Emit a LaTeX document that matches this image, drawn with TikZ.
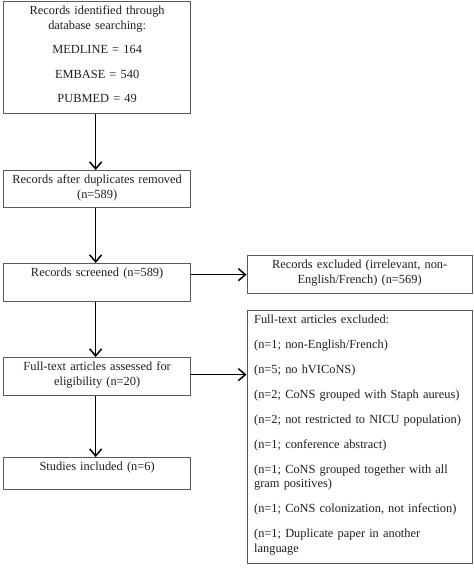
\documentclass[tikz,border=0pt]{standalone}
\usepackage{fontspec}
\setmainfont{Liberation Serif}
\usetikzlibrary{arrows.meta}
\definecolor{boxgray}{RGB}{90,90,90}
\definecolor{txt}{RGB}{30,30,30}
\newcommand\topcentered[2]{\parbox[c][#1][t]{\linewidth}{\centering\strut #2}}
\newcommand\topleft[2]{\parbox[c][#1][t]{\linewidth}{\raggedright\strut #2}}
\begin{document}
\begin{tikzpicture}[x=1bp,y=-1bp,
  box/.style={draw=boxgray, line width=1.3bp, rectangle, anchor=north west,
    inner ysep=3bp, text=txt, font=\fontsize{12.4bp}{14.5bp}\selectfont},
  leftbox/.style={box, inner xsep=4bp, text width=179bp},
  rightbox/.style={box, inner xsep=7bp, text width=211bp},
  arr/.style={-{Straight Barb[length=7bp,width=12bp]}, line width=1.5bp, black}]
\useasboundingbox (0,0) rectangle (474,568);
\node[leftbox] (b1) at (3,1) {\topcentered{106bp}{Records identified through\\database searching:\\[10bp]MEDLINE = 164\\[10bp]EMBASE = 540\\[10bp]PUBMED = 49}};
\node[leftbox] (b2) at (3,170) {\topcentered{31bp}{Records after duplicates removed\\(n=589)}};
\node[leftbox] (b3) at (3,263) {\topcentered{32bp}{Records screened (n=589)}};
\node[leftbox] (b4) at (3,357) {\topcentered{32bp}{Full-text articles assessed for\\eligibility (n=20)}};
\node[leftbox] (b5) at (3,457) {\topcentered{26bp}{Studies included (n=6)}};
\node[rightbox] (r1) at (246.5,255) {\topcentered{32bp}{Records excluded (irrelevant, non-\\English/French) (n=569)}};
\node[rightbox] (r2) at (246.5,309.5) {\topleft{247.5bp}{Full-text articles excluded:\\[10.5bp]
(n=1; non-English/French)\\[10.5bp]
(n=5; no hVICoNS)\\[10.5bp]
(n=2; CoNS grouped with Staph aureus)\\[10.5bp]
(n=2; not restricted to NICU population)\\[10.5bp]
(n=1; conference abstract)\\[10.5bp]
(n=1; CoNS grouped together with all\\gram positives)\\[10.5bp]
(n=1; CoNS colonization, not infection)\\[10.5bp]
(n=1; Duplicate paper in another\\language}};
\draw[arr] ([xshift=-1.5bp]b1.south) -- ([xshift=-1.5bp]b2.north);
\draw[arr] ([xshift=-1.5bp]b2.south) -- ([xshift=-1.5bp]b3.north);
\draw[arr] ([xshift=-1.5bp]b3.south) -- ([xshift=-1.5bp]b4.north);
\draw[arr] ([xshift=-1.5bp]b4.south) -- ([xshift=-1.5bp]b5.north);
\draw[arr] (b3.east |- r1.west) -- (r1.west);
\draw[arr] ([yshift=2bp]b4.east) -- ([yshift=2bp]b4.east -| r2.west);
\end{tikzpicture}
\end{document}
